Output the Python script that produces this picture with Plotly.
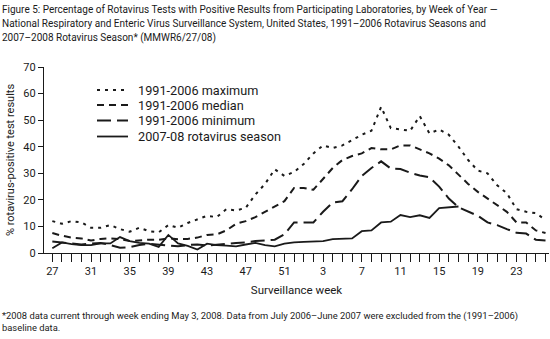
import plotly.graph_objects as go

# Surveillance weeks, July through June
weeks = list(range(27, 53)) + list(range(1, 27))
tick_every = 4

# 1991-2006 baseline, % of rotavirus tests positive
max_pct = [12, 11, 12, 11.5, 9.5, 9.5, 10.5, 9, 8, 9.5, 8.2, 7.8, 10.5, 9.5, 11.3, 12.8,
           14, 13.5, 16.5, 16, 17, 22, 26, 31.5, 29, 30.5,
           33.5, 37.5, 40.5, 39.5, 40.5, 42.5, 44.5, 46, 55, 47, 46.5, 46, 51.5, 45, 46.5,
           44.5, 40, 35, 31, 30, 25.5, 22.5, 16.5, 15.5, 15, 12.5]
median_pct = [7.5, 6.5, 5.8, 5.5, 4.7, 5.3, 5.5, 5.2, 4.5, 4.8, 5, 5, 5.5, 5.2, 5.3, 5.8,
              6.8, 7, 8.5, 11, 12, 13.5, 15.5, 17.5, 19.5, 24.5,
              24.5, 23.8, 28, 32, 35, 36.5, 37.5, 39.5, 39, 39, 40.5, 40.5, 39, 37.5, 35.5,
              33, 29.5, 26, 23, 20.5, 18, 15.5, 11.5, 11.5, 8.5, 7.5]
min_pct = [4.3, 4.0, 3.5, 3.2, 3.5, 3.8, 3.0, 2.0, 2.2, 3.0, 3.5, 3.2, 2.8, 2.5, 3.0, 3.2,
           2.8, 3.2, 3.5, 3.8, 4.0, 4.5, 4.7, 5.0, 7.0, 11.5,
           11.5, 11.5, 15.5, 19, 19.5, 24, 29, 32, 34.5, 31.8, 31.6, 30.2, 29.2, 28.5, 25,
           20.5, 17.2, 15.5, 14, 11.5, 10.5, 9, 7.6, 7.3, 5, 4.7]
# 2007-08 season, data through week 17
season_pct = [1.8, 4.0, 3.3, 3.0, 3.0, 3.6, 3.6, 6.0, 4.5, 3.8, 3.5, 2.3, 6.8, 3.6, 2.7, 1.3,
              3.5, 3.0, 2.8, 2.5, 3.2, 3.8, 3.0, 2.5, 3.5, 4.0,
              4.2, 4.4, 4.5, 5.2, 5.4, 5.5, 8.2, 8.5, 11.5, 11.8, 14.3, 13.5, 14.2, 13.2, 16.9,
              17.2, 17.5]

FONT = "Roboto, Liberation Sans, Arial, sans-serif"
INK = "#1a1a1a"

W, H = 550, 339
L, R, T, B = 44, 1, 67, 86
pw, ph = W - L - R, H - T - B


def px_x(px):
    return (px - L) / pw


def px_y(py):
    return (H - B - py) / ph


idx = list(range(len(weeks)))
fig = go.Figure()
series = [
    ("1991-2006 maximum", max_pct, "3px,5px", 2.0),
    ("1991-2006 median", median_pct, "7px,5px", 2.0),
    ("1991-2006 minimum", min_pct, "14px,6px", 2.0),
    ("2007-08 rotavirus season", season_pct, "solid", 1.8),
]
for name, vals, dash, w in series:
    fig.add_trace(go.Scatter(
        x=idx[:len(vals)], y=vals, mode="lines", name=name,
        line=dict(color=INK, width=w, dash=dash), showlegend=False,
    ))

# Legend: compact key drawn in the upper-left of the plot
key_rows = [90, 105, 120.5, 136.5]
for (name, _, dash, w), ry in zip(series, key_rows):
    fig.add_shape(type="line", xref="paper", yref="paper",
                  x0=px_x(97), x1=px_x(128), y0=px_y(ry), y1=px_y(ry),
                  line=dict(color=INK, width=w, dash=dash))
    fig.add_annotation(text=name, xref="paper", yref="paper",
                       x=px_x(136), y=px_y(ry), xanchor="left", yanchor="middle",
                       showarrow=False, font=dict(size=12.7, family=FONT, color=INK))

ticktext = [str(w) if i % tick_every == 0 else "" for i, w in enumerate(weeks)]

fig.update_layout(
    width=W, height=H,
    margin=dict(l=L, r=R, t=T, b=B),
    paper_bgcolor="white", plot_bgcolor="white",
    font=dict(family=FONT, color=INK, size=11),
    showlegend=False,
    xaxis=dict(
        range=[-0.86, 51.36], tickmode="array", tickvals=idx, ticktext=ticktext,
        ticks="outside", ticklen=8, tickwidth=1, tickcolor=INK,
        showline=True, linecolor=INK, linewidth=1.2, showgrid=False, zeroline=False,
        tickfont=dict(size=11, family=FONT, color=INK),
        title=dict(text="Surveillance week", font=dict(size=11.5, family=FONT, color=INK), standoff=8),
    ),
    yaxis=dict(
        range=[0, 70], tickvals=[0, 10, 20, 30, 40, 50, 60, 70],
        ticks="outside", ticklen=5, tickwidth=1, tickcolor=INK,
        showline=True, linecolor=INK, linewidth=1.2, showgrid=False, zeroline=False,
        tickfont=dict(size=11, family=FONT, color=INK),
        title=dict(text="% rotavirus-positive test results",
                   font=dict(size=11, family=FONT, color=INK), standoff=6),
    ),
)

title_lines = [
    "Figure 5: Percentage of Rotavirus Tests with Positive Results from Participating Laboratories, by Week of Year —",
    "National Respiratory and Enteric Virus Surveillance System, United States, 1991–2006 Rotavirus Seasons and",
    "2007–2008 Rotavirus Season* (MMWR6/27/08)",
]
for k, line in enumerate(title_lines):
    fig.add_annotation(text=line, xref="paper", yref="paper",
                       x=px_x(0), y=px_y(1.5 + 14.3 * k), xanchor="left", yanchor="top",
                       showarrow=False, font=dict(size=10, family=FONT, color=INK))

foot_lines = [
    "*2008 data current through week ending May 3, 2008. Data from July 2006–June 2007 were excluded from the (1991–2006)",
    "baseline data.",
]
for k, line in enumerate(foot_lines):
    fig.add_annotation(text=line, xref="paper", yref="paper",
                       x=px_x(0), y=px_y(307.5 + 12.5 * k), xanchor="left", yanchor="top",
                       showarrow=False, font=dict(size=9.4, family=FONT, color=INK))

fig.write_html("out.html")
